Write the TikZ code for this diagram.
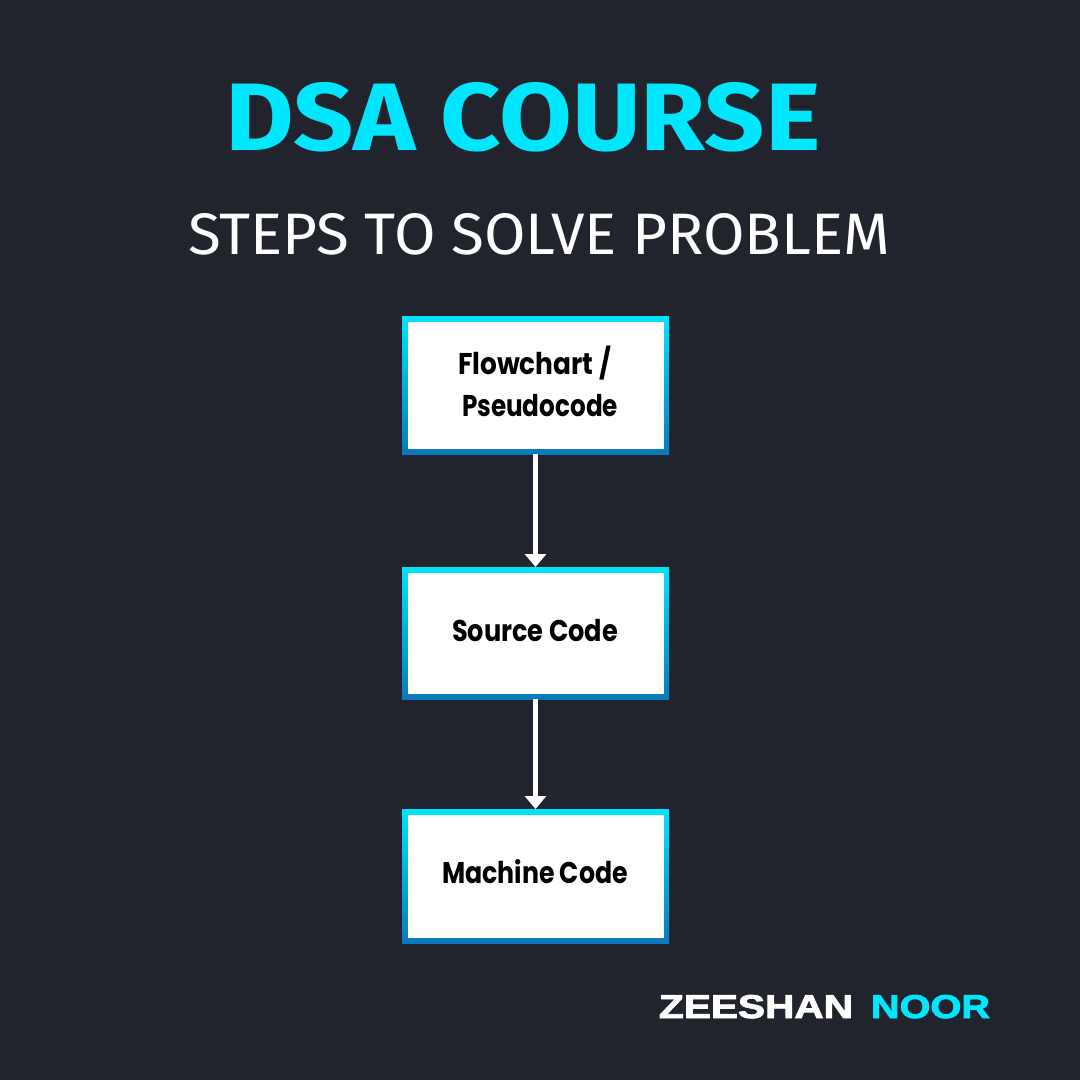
\documentclass[tikz,border=0pt]{standalone}
\usepackage{fontspec}
\usepackage{graphicx}
\usetikzlibrary{arrows.meta}
\newfontfamily\titlefont{Fira Sans}
\newfontfamily\boxfont{Poppins}
\newfontfamily\footfont{Liberation Sans}[BoldFeatures={FakeBold=2.5}]
\definecolor{bgdark}{HTML}{21242C}
\definecolor{cyanT}{HTML}{00E6FF}
\definecolor{boxtop}{HTML}{00E4FA}
\definecolor{boxbot}{HTML}{0A78BE}
\newcommand{\boxtxt}[2]{\resizebox{#1}{\height}{\boxfont\bfseries\fontsize{30}{36}\selectfont #2}}
\tikzset{
  frame/.style={rectangle, inner sep=0pt, outer sep=0pt, minimum width=267pt,
    top color=boxtop, bottom color=boxbot, draw=none},
  inner/.style={rectangle, inner sep=0pt, outer sep=0pt, fill=white, minimum width=256pt},
  lbl/.style={inner sep=0pt, outer sep=0pt, anchor=base west, text=black},
  flow/.style={draw=white, line width=4.5pt, -{Triangle[width=21pt,length=13pt]}},
  txt/.style={inner sep=0pt, outer sep=0pt, anchor=base west},
}
\begin{document}
\begin{tikzpicture}[x=1pt,y=-1pt]
\fill[bgdark] (0,0) rectangle (1080,1080);
\useasboundingbox (0,0) rectangle (1080,1080);

\node[txt, text=cyanT] (title) at (225,150) {\resizebox{595pt}{68pt}{\titlefont\bfseries DSA COURSE}};
\node[txt, text=white] (subtitle) at (188,254) {\resizebox{702pt}{41pt}{\titlefont STEPS TO SOLVE PROBLEM}};

\node[frame, minimum height=138pt] (b1) at (535.5,385) {};
\node[inner, minimum height=127pt] (w1) at (535.5,385) {};
\node[frame, minimum height=132pt] (b2) at (535.5,633) {};
\node[inner, minimum height=121pt] (w2) at (535.5,633) {};
\node[frame, minimum height=134pt] (b3) at (535.5,876) {};
\node[inner, minimum height=123pt] (w3) at (535.5,876) {};

\node[lbl] (t1a) at (458,374) {\boxtxt{153pt}{Flowchart /}};
\node[lbl] (t1b) at (462,416) {\boxtxt{156pt}{Pseudocode}};
\node[lbl] (t2) at (452,641) {\boxtxt{166pt}{Source Code}};
\node[lbl] (t3) at (442,883) {\boxtxt{186pt}{Machine Code}};

\draw[flow] (b1.south) -- (b2.north);
\draw[flow] (b2.south) -- (b3.north);

\node[txt, text=white] (zee) at (659,1018) {\resizebox{194pt}{23pt}{\footfont\bfseries ZEESHAN}};
\node[txt, text=cyanT] (noor) at (871,1018) {\resizebox{119pt}{23pt}{\footfont\bfseries NOOR}};
\end{tikzpicture}
\end{document}
